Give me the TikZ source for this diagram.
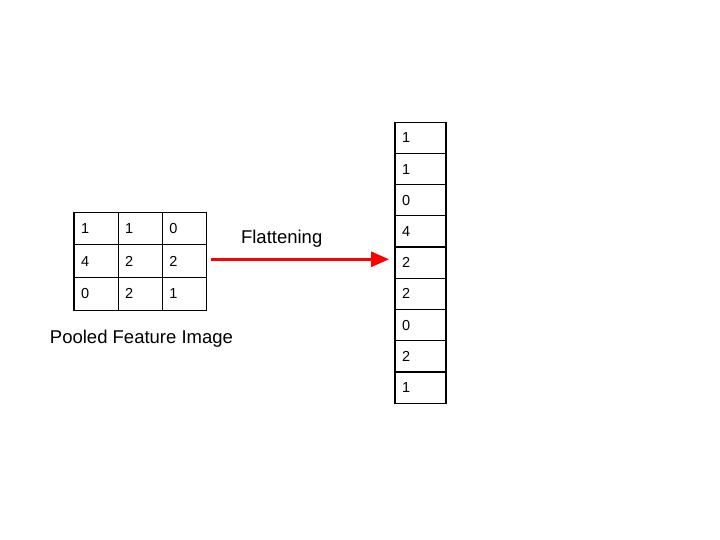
\documentclass[tikz,border=0pt]{standalone}
\usepackage{fontspec}
\setmainfont{Liberation Sans}
\usetikzlibrary{arrows.meta}
\tikzset{
	gridcell/.style={draw, line width=1.2bp, inner xsep=7bp, inner ysep=0bp, text width=30.2bp, align=left, minimum height=32.6bp, font=\fontsize{14.5bp}{17bp}\selectfont},
	vectcell/.style={draw, line width=1.2bp, inner xsep=7bp, inner ysep=0bp, text width=37bp, align=left, minimum height=31.2bp, font=\fontsize{14.5bp}{17bp}\selectfont},
	captext/.style={anchor=base, font=\fontsize{18.5bp}{22bp}\selectfont},
	flatarrow/.style={draw=red, line width=3bp, -{Triangle[length=18bp,width=15bp]}}
}

\begin{document}
\begin{tikzpicture}[x=1bp, y=-1bp]
		%%%%% START %%%%%
		
		\useasboundingbox (0, 0) rectangle (720, 540);
		
		% pooled 3x3 grid
		\node[gridcell] (g11) at (96.1, 228.6) {1};
		\node[gridcell] (g12) at (140.3, 228.6) {1};
		\node[gridcell] (g13) at (184.5, 228.6) {0};
		\node[gridcell] (g21) at (96.1, 261.2) {4};
		\node[gridcell] (g22) at (140.3, 261.2) {2};
		\node[gridcell] (g23) at (184.5, 261.2) {2};
		\node[gridcell] (g31) at (96.1, 293.8) {0};
		\node[gridcell] (g32) at (140.3, 293.8) {2};
		\node[gridcell] (g33) at (184.5, 293.8) {1};
		
		\node[captext] (pooledtext) at (141.5, 343) {Pooled Feature Image};
		
		% flattened column
		\node[vectcell] (v1) at (420.5, 137.9) {1};
		\node[vectcell] (v2) at (420.5, 169.1) {1};
		\node[vectcell] (v3) at (420.5, 200.3) {0};
		\node[vectcell] (v4) at (420.5, 231.5) {4};
		\node[vectcell] (v5) at (420.5, 262.7) {2};
		\node[vectcell] (v6) at (420.5, 293.9) {2};
		\node[vectcell] (v7) at (420.5, 325.1) {0};
		\node[vectcell] (v8) at (420.5, 356.3) {2};
		\node[vectcell] (v9) at (420.5, 387.5) {1};
		
		% arrow
		\coordinate (flatstart) at (211, 259.3);
		\coordinate (flatend) at (389, 259.3);
		\draw[flatarrow] (flatstart) -- (flatend);
		\node[captext] (flattext) at (281.7, 243.3) {Flattening};
		
		%%%%% END %%%%%
	\end{tikzpicture}
\end{document}
